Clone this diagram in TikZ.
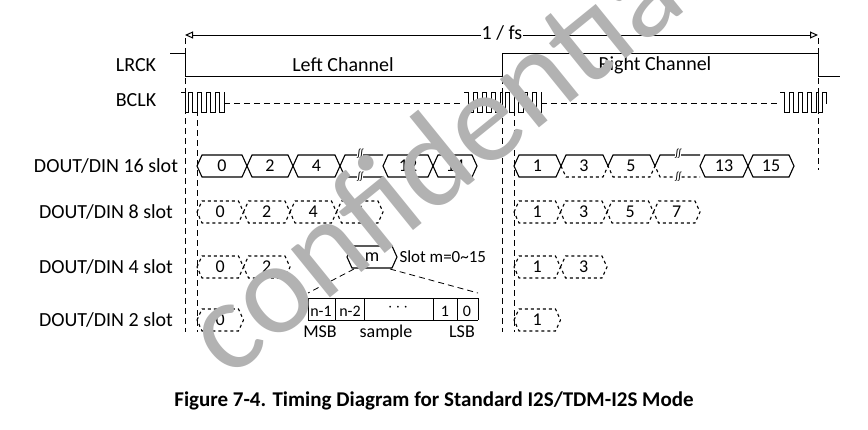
\documentclass[tikz,border=0pt]{standalone}
\usepackage{fontspec}
\setmainfont{Carlito}
\usetikzlibrary{arrows.meta}
\begin{document}
\begin{tikzpicture}[x=1pt,y=-1pt,line width=1pt,
  lbl/.style={font=\fontsize{18}{19}\selectfont,inner sep=1pt},
  side/.style={font=\fontsize{20}{21}\selectfont,inner sep=1pt},
  vd/.style={dashed,line width=0.8pt,dash pattern=on 6pt off 4pt},
  brk/.style={fill=white,inner sep=0.5pt,font=\itshape\fontsize{11}{11}\selectfont},
  hs/.style={line width=1.1pt}]
\useasboundingbox (0,0) rectangle (868,429);
\newcommand{\hexa}[5]{\draw[#5] (#1,#3) -- (#1+5,#3-11) -- (#2-5,#3-11) -- (#2,#3) -- (#2-5,#3+11) -- (#1+5,#3+11) -- cycle;
  \node[lbl] at ({(#1+#2)/2},#3) {#4};}
\newcommand{\clk}[3]{\foreach \k in {1,...,#3}{\draw[line width=0.8pt] ({#1+9*(\k-1)},92) -- ({#1+9*(\k-1)+4.5},92) -- ({#1+9*(\k-1)+4.5},112) -- ({#1+9*\k},112) -- ({#1+9*\k},92);}}
% 1/fs
\draw[-{Triangle[open,length=8pt,width=7pt]}] (500,35) -- (185,35);
\draw[-{Triangle[open,length=8pt,width=7pt]}] (500,35) -- (818,35);
\node[side,fill=white] at (502,33) {1 / fs};
% LRCK
\node[side] at (136,65) {LRCK};
\draw (170,53) -- (185,53) -- (185,76) -- (502,76) -- (502,53) -- (818,53) -- (818,76) -- (840,76);
\node[side] at (343,65) {Left Channel};
\node[side] at (655,65) {Right Channel};
% BCLK
\node[side] at (136,100) {BCLK};
\draw[line width=0.8pt] (181,92) -- (185,92) -- (185,112) -- (188,112) -- (188,92);
\clk{188}{112}{4}
\draw[vd] (224,103) -- (462,103);
\clk{464}{112}{4}
\draw[line width=0.8pt] (500,92) -- (502,92) -- (502,112) -- (505,112) -- (505,92);
\clk{505}{112}{4}
\draw[vd] (541,103) -- (778,103);
\clk{780}{112}{4}
\draw[line width=0.8pt] (816,92) -- (818,92) -- (818,112) -- (822,112) -- (822,92) -- (826,92) -- (826,104);
% vertical dashed
\draw[vd] (185,38) -- (185,332);
\draw[vd] (197,110) -- (197,332);
\draw[vd] (502,78) -- (502,332);
\draw[vd] (514,110) -- (514,332);
\draw[vd] (818,38) -- (818,170);
% labels
\node[side] at (106,166) {DOUT/DIN 16 slot};
\node[side] at (106,212) {DOUT/DIN 8 slot};
\node[side] at (106,267) {DOUT/DIN 4 slot};
\node[side] at (106,320) {DOUT/DIN 2 slot};
% 16 slot left
\hexa{197}{247}{166}{0}{hs}
\hexa{247}{293}{166}{2}{hs}
\hexa{293}{340}{166}{4}{hs}
\draw[hs] (340,166) -- (345,155) -- (383,155);
\draw[hs] (340,166) -- (345,177) -- (383,177);
\hexa{383}{433}{166}{12}{hs}
\hexa{433}{477}{166}{14}{hs}
\node[brk] at (360,154) {ʃʃ};
\node[brk] at (360,177) {ʃʃ};
% 16 slot right
\hexa{514}{561}{166}{1}{hs}
\draw[hs] (561,166) -- (566,155) -- (603,155) -- (608,166) -- (613,155) -- (650,155) -- (655,166) -- (660,155) -- (700,155);
\draw[hs,dashed] (561,166) -- (566,177) -- (603,177) -- (608,166) -- (613,177) -- (650,177) -- (655,166) -- (660,177) -- (700,177);
\node[lbl] at (584,166) {3};
\node[lbl] at (631,166) {5};
\hexa{700}{748}{166}{13}{hs}
\hexa{748}{794}{166}{15}{hs}
\node[brk] at (678,154) {ʃʃ};
\node[brk] at (678,177) {ʃʃ};
% 8 slot
\foreach \i/\t in {0/0,1/2,2/4,3/6}{\hexa{197+46.5*\i}{243.5+46.5*\i}{212}{\t}{hs,dashed}}
\foreach \i/\t in {0/1,1/3,2/5,3/7}{\hexa{514+46.5*\i}{560.5+46.5*\i}{212}{\t}{hs,dashed}}
% 4 slot
\foreach \i/\t in {0/0,1/2}{\hexa{197+46.5*\i}{243.5+46.5*\i}{267}{\t}{hs,dashed}}
\foreach \i/\t in {0/1,1/3}{\hexa{514+46.5*\i}{560.5+46.5*\i}{267}{\t}{hs,dashed}}
% 2 slot
\hexa{197}{243.5}{320}{0}{hs,dashed}
\hexa{514}{560.5}{320}{1}{hs,dashed}
% legend
\hexa{347}{397}{257}{m}{hs}
\node[side,anchor=west,font=\fontsize{17}{18}\selectfont] at (398,257) {Slot m=0\textasciitilde15};
\draw[vd,line width=0.8pt] (354,269) -- (308,293);
\draw[vd,line width=0.8pt] (390,269) -- (478,293);
\draw[line width=0.8pt] (308,298) -- (478,298);
\draw[line width=0.8pt] (308,320) -- (478,320);
\foreach \x in {308,335,364,433,457,478}{\draw[line width=0.8pt] (\x,298) -- (\x,320);}
\node[lbl,font=\fontsize{16}{17}\selectfont] at (321,311) {n-1};
\node[lbl,font=\fontsize{16}{17}\selectfont] at (350,311) {n-2};
\node[lbl,font=\fontsize{16}{17}\selectfont] at (398,308) {$\cdots$};
\node[lbl,font=\fontsize{16}{17}\selectfont] at (445,311) {1};
\node[lbl,font=\fontsize{16}{17}\selectfont] at (467,311) {0};
\node[lbl] at (320,332) {MSB};
\node[lbl] at (386,333) {sample};
\node[lbl] at (462,332) {LSB};
% caption
\node[font=\bfseries\fontsize{21}{23}\selectfont] at (434,401) {Figure 7-4. Timing Diagram for Standard I2S/TDM-I2S Mode};
% watermark
\begin{scope}
\clip (0,0) rectangle (868,429);
\node[text=black!30,rotate=39,anchor=west,font=\fontsize{130}{130}\selectfont,inner sep=0] at (200,346) {confidential};
\end{scope}
\end{tikzpicture}
\end{document}
